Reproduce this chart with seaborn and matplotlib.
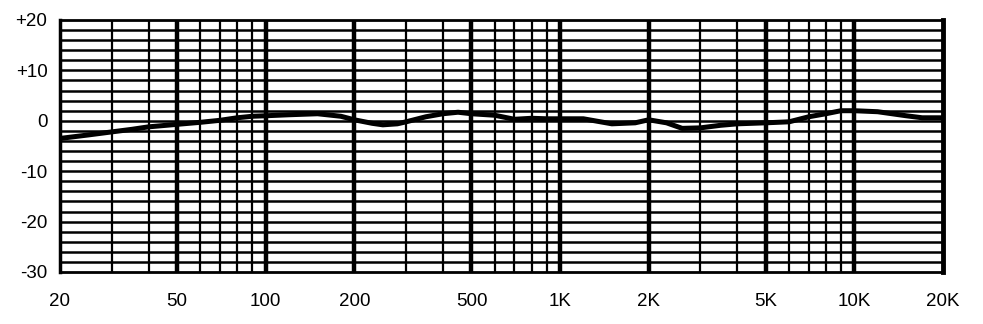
import matplotlib
matplotlib.use("Agg")
import matplotlib.pyplot as plt
import seaborn as sns
import pandas as pd
import numpy as np

freq_hz = [20, 25, 30, 35, 40, 50, 60, 70, 80, 90, 100, 120, 150, 180, 200, 230, 250, 280,
           300, 350, 400, 450, 500, 600, 700, 800, 900, 1000, 1200, 1500, 1800, 2000,
           2300, 2600, 3000, 3500, 4000, 5000, 6000, 7000, 8000, 9000, 10000, 12000,
           15000, 17000, 20000]
level_db = [-3.5, -2.8, -2.2, -1.7, -1.2, -0.7, -0.3, 0.1, 0.6, 0.9, 1.0, 1.2, 1.4, 0.9, 0.2,
            -0.5, -0.8, -0.6, -0.2, 0.8, 1.4, 1.7, 1.4, 1.1, 0.3, 0.5, 0.4, 0.4, 0.4, -0.6,
            -0.4, 0.2, -0.4, -1.5, -1.4, -0.9, -0.6, -0.4, -0.2, 0.8, 1.4, 2.0, 2.0, 1.8,
            1.0, 0.6, 0.6]

x_ticks = [20, 50, 100, 200, 500, 1000, 2000, 5000, 10000, 20000]
x_labels = ["20", "50", "100", "200", "500", "1K", "2K", "5K", "10K", "20K"]
y_ticks = [20, 10, 0, -10, -20, -30]
y_labels = ["+20", "+10", "0", "-10", "-20", "-30"]
thin_grid = [30, 40, 60, 70, 80, 90, 300, 400, 600, 700, 800, 900, 3000, 4000,
             6000, 7000, 8000, 9000]
thick_grid = [50, 100, 200, 500, 1000, 2000, 5000, 10000]

sns.set_theme(style="white")
plt.rcParams['font.family'] = ['Liberation Sans', 'DejaVu Sans']

fig = plt.figure(figsize=(9.83, 3.24), dpi=100)
ax = fig.add_axes([60/983, 1 - 272/324, (943-60)/983, (272-20)/324])

ax.set_xscale("log")
ax.set_xlim(20, 20000)
ax.set_ylim(-30, 20)

for y in np.arange(-28, 20, 2):
    ax.axhline(y, color="black", lw=1.8, zorder=1)
for f in thin_grid:
    ax.axvline(f, color="black", lw=1.6, zorder=1)
for f in thick_grid:
    ax.axvline(f, color="black", lw=3.2, zorder=1)

df = pd.DataFrame({"freq": freq_hz, "level": level_db})
sns.lineplot(data=df, x="freq", y="level", ax=ax, color="black", lw=3.6, zorder=3)

ax.set_xticks(x_ticks)
ax.set_xticklabels(x_labels)
ax.set_xticks([], minor=True)
ax.set_yticks(y_ticks)
ax.set_yticklabels(y_labels)
ax.tick_params(axis="both", length=0, labelsize=13.5, colors="black")
ax.tick_params(axis="x", pad=15)
ax.tick_params(axis="y", pad=9)
ax.set_xlabel("")
ax.set_ylabel("")
for side, sp in ax.spines.items():
    sp.set_color("black")
    sp.set_linewidth(2.0)
ax.spines["left"].set_linewidth(2.5)
ax.spines["right"].set_linewidth(3.5)

fig.savefig("out.png", dpi=100)
